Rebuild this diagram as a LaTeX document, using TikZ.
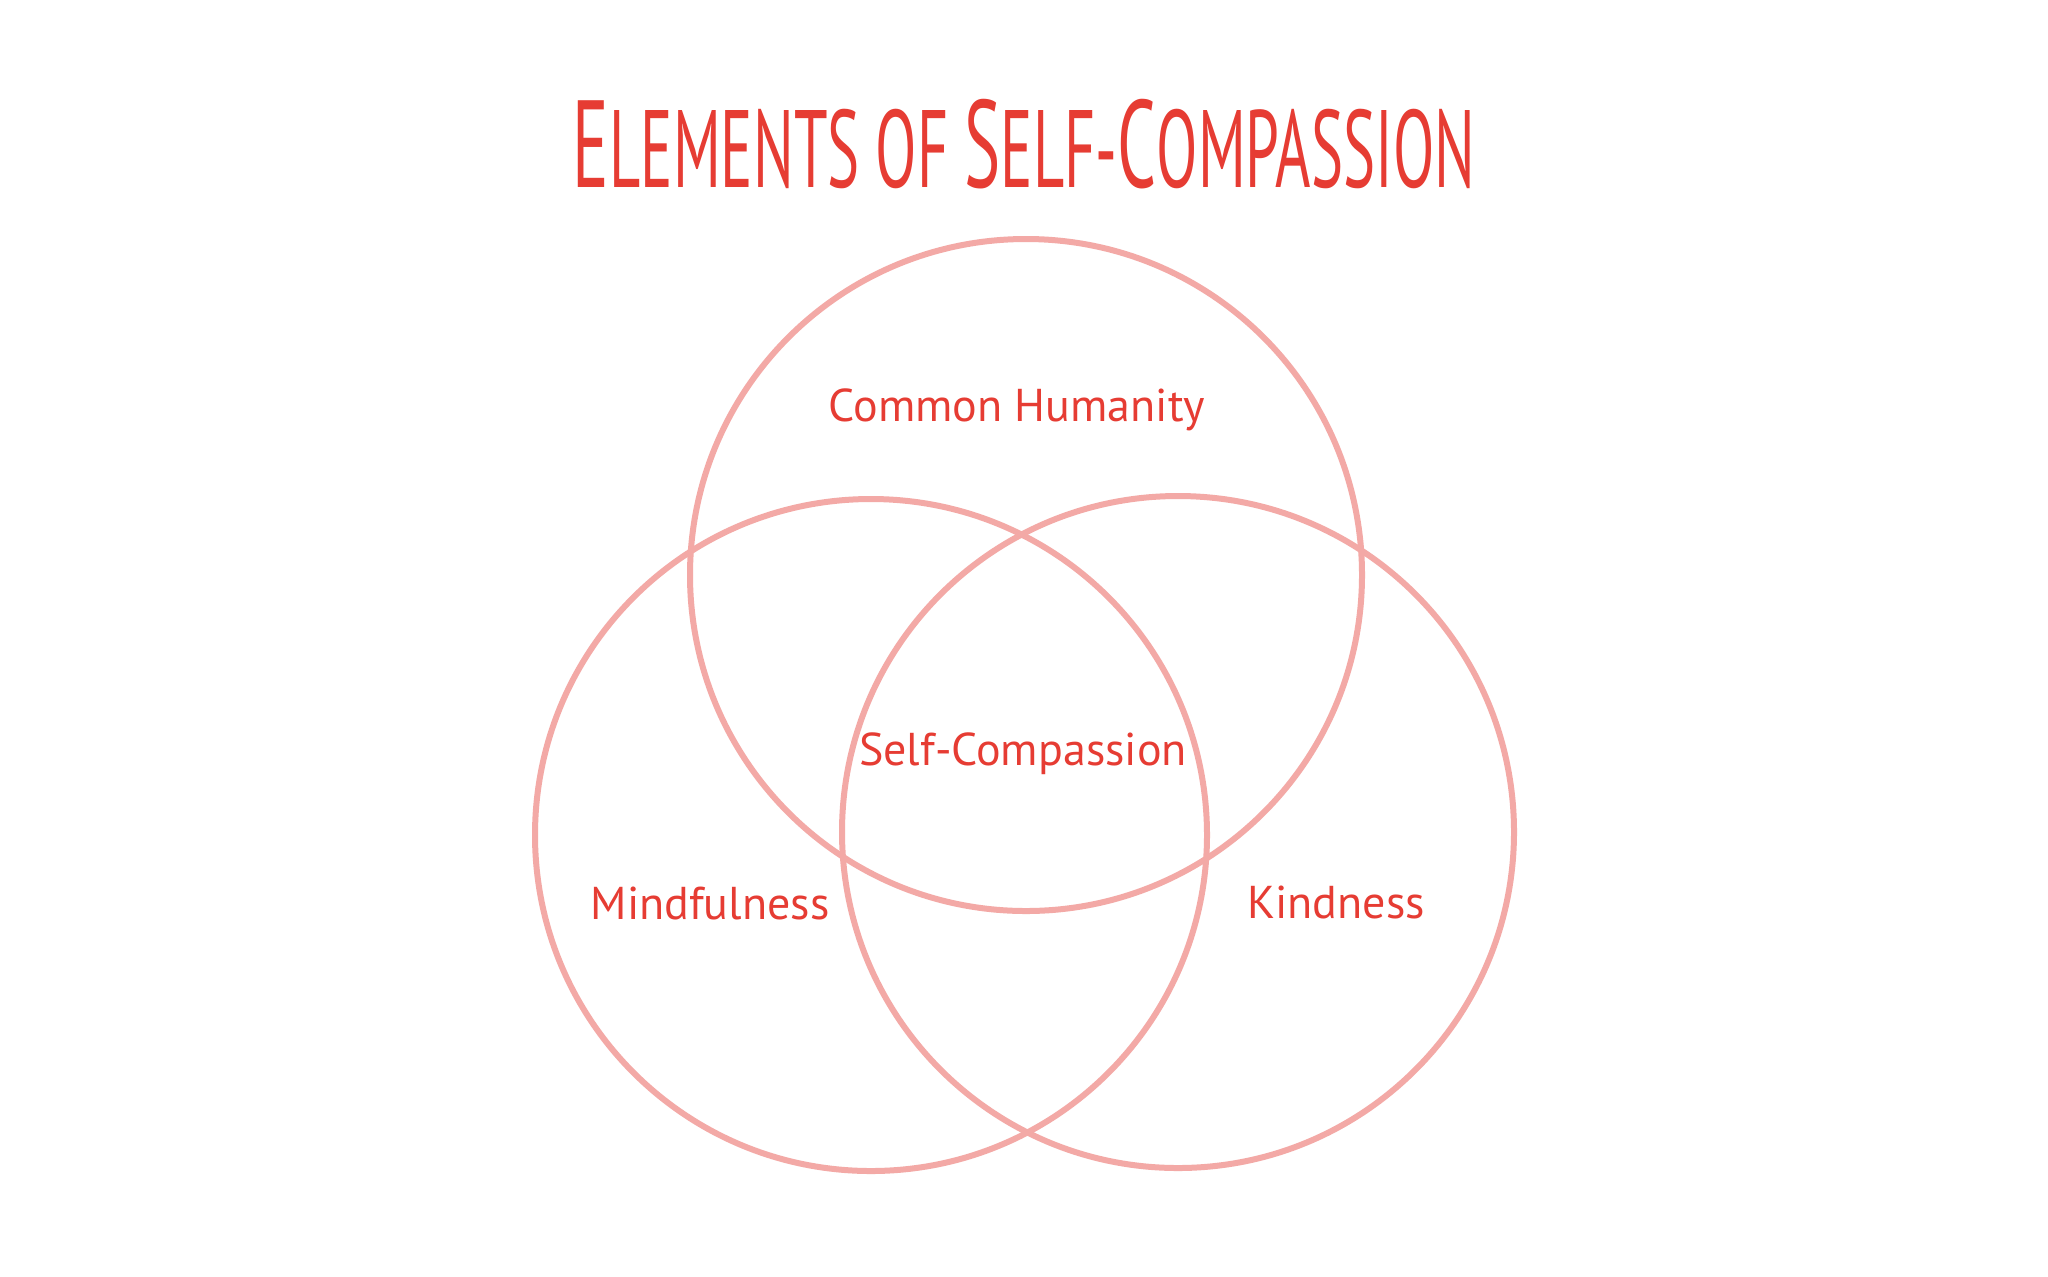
\documentclass[tikz,border=0pt]{standalone}
\usepackage{fontspec}
\setmainfont{PT Sans}
\newfontfamily\titlefont[FakeStretch=0.55]{PT Sans}
\usetikzlibrary{positioning}
\definecolor{ringred}{RGB}{243,169,166}
\definecolor{textred}{RGB}{230,60,51}

\newcommand{\tallcap}[1]{{\fontsize{62}{64}\selectfont #1}}

\begin{document}
\begin{tikzpicture}[x=0.5pt, y=-0.5pt,
    ring/.style={circle, draw=ringred, line width=3pt, minimum size=336pt, inner sep=0pt},
    tag/.style={text=textred, font=\fontsize{23}{26}\selectfont, inner sep=0pt}]
    \fill[white] (0,0) rectangle (2048,1276);
    \useasboundingbox (0,0) rectangle (2048,1276);

    % title
    \node[text=textred, font=\titlefont\fontsize{55}{64}\selectfont] (title) at (1024,144)
        {\tallcap{E}LEMENTS OF \tallcap{S}ELF-\tallcap{C}OMPASSION};

    % the three rings
    \node[ring] (humanity) at (1026,575) {};
    \node[ring] (mindful) at (871,835) {};
    \node[ring] (kind) at (1178,832) {};

    % labels
    \node[tag] (common) at (1017,410) {Common Humanity};
    \node[tag] (self) at (1023,754) {Self-Compassion};
    \node[tag] (mind) at (710,903) {Mindfulness};
    \node[tag] (kindness) at (1336,902) {Kindness};
\end{tikzpicture}
\end{document}
